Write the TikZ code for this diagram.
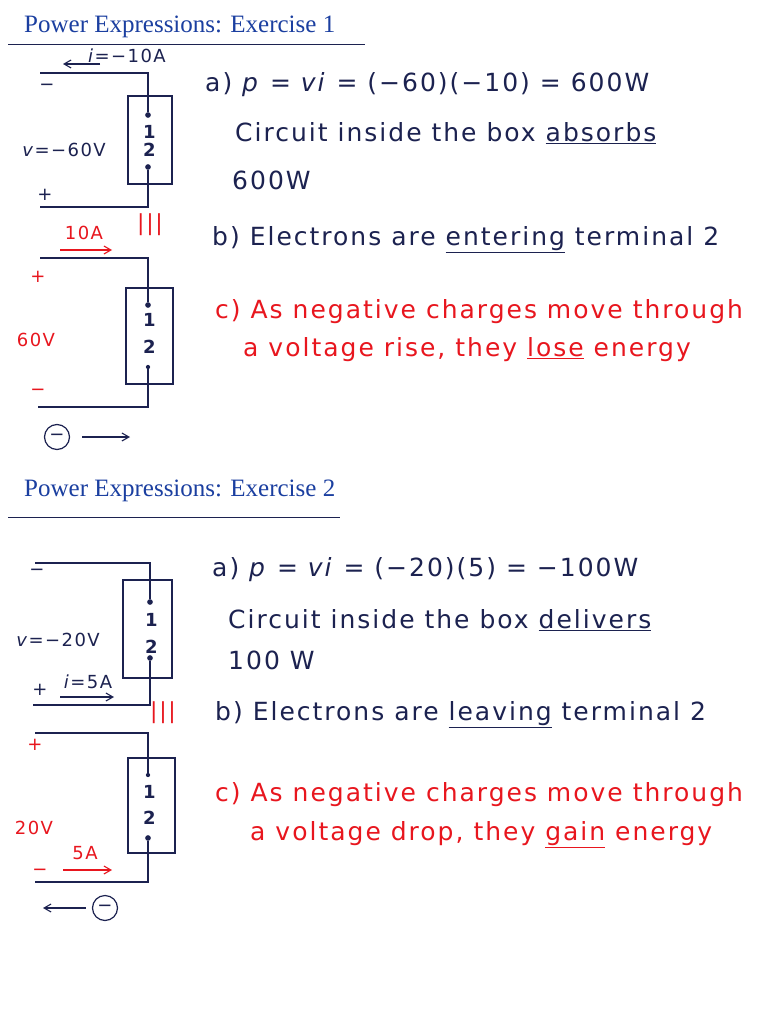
\documentclass[tikz,border=0pt]{standalone}
\usepackage{fontspec}
\setmainfont{Liberation Serif}
\newfontfamily\hand[LetterSpace=8]{DejaVu Sans}
\usetikzlibrary{arrows.meta}
\definecolor{ink}{HTML}{1C2250}
\definecolor{rd}{HTML}{E8161E}
\definecolor{ttl}{HTML}{1B3FA0}
\begin{document}
\begin{tikzpicture}[x=1pt,y=-1pt,
 wire/.style={ink,line width=1.4pt},
 bx/.style={draw=ink,line width=1.4pt},
 dotn/.style={circle,fill=ink,inner sep=2pt},
 lbl/.style={font=\hand\fontsize{18}{20}\selectfont,inner sep=0pt},
 ttlstyle/.style={anchor=west,ttl,font=\fontsize{25}{28}\selectfont,inner sep=0pt},
 txt/.style={font=\hand\fontsize{25}{28}\selectfont,anchor=west,inner sep=0pt},
 arr/.style={line width=1.1pt,-{Straight Barb[length=7pt,width=8pt]}}]
\useasboundingbox (0,0) rectangle (768,1024);
\fill[white] (0,0) rectangle (768,1024);
% titles
\node[ttlstyle] (t1) at (24,27) {Power Expressions: Exercise 1};
\draw[ink,line width=1pt] (8,45) -- (365,45);
\node[ttlstyle] (t2) at (24,491) {Power Expressions: Exercise 2};
\draw[ink,line width=1pt] (8,517) -- (340,517);

% circuit 1
\draw[bx] (128,96) rectangle (172,184);
\node[dotn] (a1) at (148,115) {};
\node[dotn] (a2) at (148,167) {};
\draw[wire] (40,73) -- (148,73) -- (a1);
\draw[wire] (a2) -- (148,207) -- (40,207);
\node[lbl,ink] at (150,132) {\textbf{1}};
\node[lbl,ink] at (150,150) {\textbf{2}};
\node[lbl,ink] at (47,87) {−};
\node[lbl,ink] at (45,195) {+};
\node[lbl,ink] at (64,150) {\textit{v}=−60V};
\draw[ink,arr] (100,64) -- (63,64);
\node[lbl,ink,anchor=west] at (88,56) {\textit{i}=−10A};
\node[lbl,rd,font=\hand\fontsize{22}{24}\selectfont] at (150,225) {|||};
\draw[rd,arr] (60,250) -- (112,250);
\node[lbl,rd] at (84,233) {10A};

% circuit 2
\draw[bx] (126,288) rectangle (173,384);
\node[dotn] (b1) at (148,305) {};
\node[dotn,inner sep=1.5pt] (b2) at (148,367) {};
\draw[wire] (40,258) -- (148,258) -- (b1);
\draw[wire] (b2) -- (148,407) -- (38,407);
\node[lbl,ink] at (150,320) {\textbf{1}};
\node[lbl,ink] at (150,347) {\textbf{2}};
\node[lbl,rd] at (38,277) {+};
\node[lbl,rd] at (36,340) {60V};
\node[lbl,rd] at (38,392) {−};
\node[draw=ink,circle,line width=1.2pt,minimum size=25pt,inner sep=0pt,lbl,ink] (e1) at (57,437) {−};
\coordinate (e1e) at (130,437);
\draw[ink,arr] ([xshift=12pt]e1.east) -- (e1e);

% circuit 3
\draw[bx] (123,580) rectangle (172,678);
\node[dotn] (d1) at (150,602) {};
\node[dotn] (d2) at (150,658) {};
\draw[wire] (35,563) -- (150,563) -- (d1);
\draw[wire] (d2) -- (150,705) -- (33,705);
\node[lbl,ink] at (152,620) {\textbf{1}};
\node[lbl,ink] at (152,647) {\textbf{2}};
\node[lbl,ink] at (37,572) {−};
\node[lbl,ink] at (58,640) {\textit{v}=−20V};
\node[lbl,ink] at (40,690) {+};
\draw[ink,arr] (60,697) -- (114,697);
\node[lbl,ink] at (88,682) {\textit{i}=5A};
\node[lbl,rd,font=\hand\fontsize{22}{24}\selectfont] at (163,713) {|||};

% circuit 4
\draw[bx] (128,758) rectangle (175,853);
\node[dotn,inner sep=1.5pt] (f1) at (148,775) {};
\node[dotn] (f2) at (148,838) {};
\draw[wire] (35,733) -- (148,733) -- (f1);
\draw[wire] (f2) -- (148,882) -- (35,882);
\node[lbl,ink] at (150,792) {\textbf{1}};
\node[lbl,ink] at (150,818) {\textbf{2}};
\node[lbl,rd] at (35,745) {+};
\node[lbl,rd] at (34,828) {20V};
\node[lbl,rd] at (40,872) {−};
\draw[rd,arr] (63,870) -- (112,870);
\node[lbl,rd] at (85,853) {5A};
\node[draw=ink,circle,line width=1.2pt,minimum size=25pt,inner sep=0pt,lbl,ink] (e2) at (105,908) {−};
\draw[ink,arr] ([xshift=-6pt]e2.west) -- (43,908);

% text exercise 1
\node[txt,ink] at (205,85) {a) \textit{p} = \textit{vi} = (−60)(−10) = 600W};
\node[txt,ink] at (235,133) {Circuit inside the box \underline{absorbs}};
\node[txt,ink] at (232,180) {600W};
\node[txt,ink] at (212,240) {b) Electrons are \underline{entering} terminal 2};
\node[txt,rd] at (215,312) {c) As negative charges move through};
\node[txt,rd] at (243,350) {a voltage rise, they \underline{lose} energy};

% text exercise 2
\node[txt,ink] at (212,570) {a) \textit{p} = \textit{vi} = (−20)(5) = −100W};
\node[txt,ink] at (228,620) {Circuit inside the box \underline{delivers}};
\node[txt,ink] at (228,660) {100 W};
\node[txt,ink] at (215,715) {b) Electrons are \underline{leaving} terminal 2};
\node[txt,rd] at (215,795) {c) As negative charges move through};
\node[txt,rd] at (250,835) {a voltage drop, they \underline{gain} energy};
\end{tikzpicture}
\end{document}
